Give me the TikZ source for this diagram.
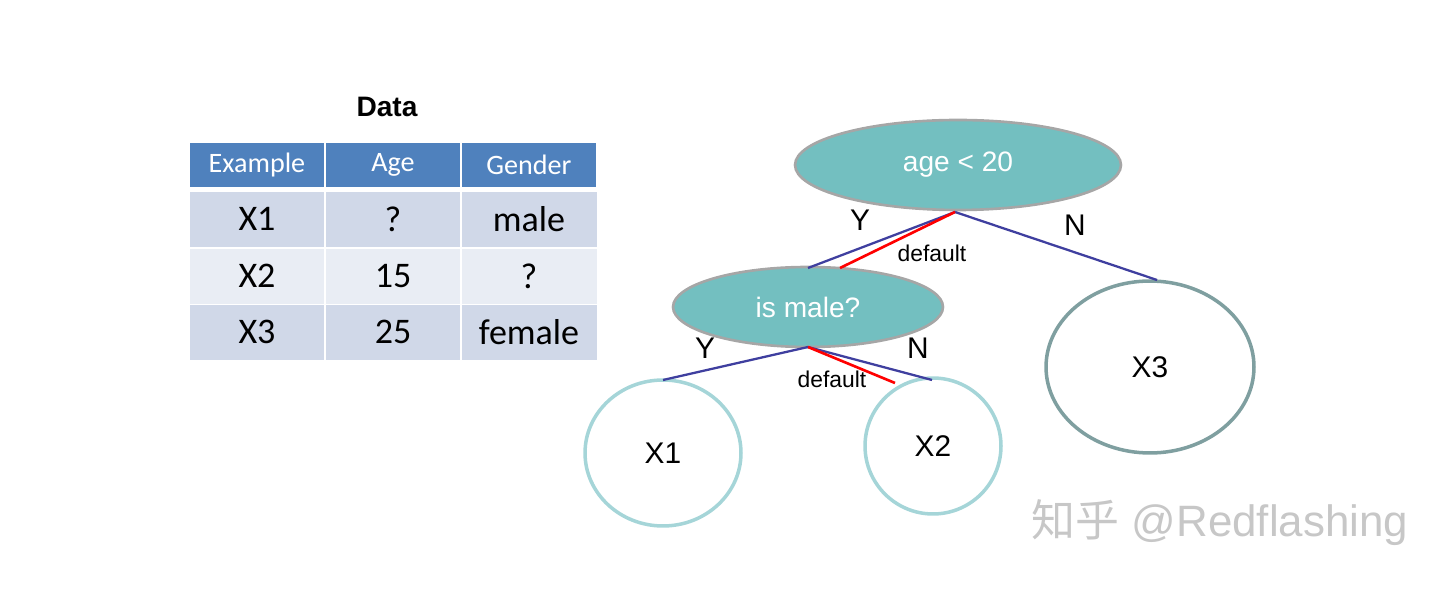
\documentclass[tikz,border=0pt]{standalone}
\usepackage{fontspec}
\setmainfont{Liberation Sans}
\newfontfamily\calfont{Carlito}
\newfontfamily\cjkfont{Noto Sans CJK SC}
\usetikzlibrary{shapes.geometric}
\definecolor{hdr}{HTML}{4F81BD}
\definecolor{rowa}{HTML}{D0D8E8}
\definecolor{rowb}{HTML}{E9EDF4}
\definecolor{teal}{HTML}{73BFC0}
\definecolor{lblue}{HTML}{3F3F9F}
\definecolor{ltl}{HTML}{A5D5D8}
\definecolor{gtl}{HTML}{7F9FA0}
\begin{document}
\begin{tikzpicture}[x=0.02cm,y=-0.02cm,
  cellh/.style={text=white,font=\calfont\fontsize{16}{18}\selectfont},
  cell/.style={font=\calfont\fontsize{20.5}{23}\selectfont},
  dec/.style={ellipse,fill=teal,draw=gray!70,line width=1.5pt,text=white,font=\fontsize{16}{18}\selectfont},
  leaf/.style={ellipse,draw=#1,line width=2pt,font=\fontsize{17}{19}\selectfont},
  br/.style={lblue,line width=1.3pt},
  df/.style={red,line width=1.5pt},
  lab/.style={font=\fontsize{17}{19}\selectfont},
  slab/.style={font=\fontsize{13}{15}\selectfont}]
\useasboundingbox (0,0) rectangle (1440,590);
\node[font=\bfseries\fontsize{16}{18}\selectfont] (data) at (387,107) {Data};
\foreach \x/\t [count=\i] in {190/Example,326/Age,462/Gender}{
  \fill[hdr] (\x,143) rectangle ++(134,44);
  \node[cellh] (h\i) at (\x+67,165) {\t};}
\foreach \y/\c/\a/\b/\g [count=\j] in {192/rowa/X1/?/male,249/rowb/X2/15/?,305/rowa/X3/25/female}{
  \fill[\c] (190,\y) rectangle ++(134,55);
  \fill[\c] (326,\y) rectangle ++(134,55);
  \fill[\c] (462,\y) rectangle ++(135,55);
  \node[cell] (r\j a) at (257,\y+27) {\a};
  \node[cell] (r\j b) at (393,\y+27) {\b};
  \node[cell] (r\j c) at (529,\y+27) {\g};}
\node[dec,minimum width=6.52cm,minimum height=1.8cm] (age) at (958,165) {age < 20};
\node[dec,minimum width=5.4cm,minimum height=1.6cm] (male) at (808,307) {is male?};
\node[leaf=gtl,minimum width=4.16cm,minimum height=3.44cm] (x3) at (1150,367) {X3};
\node[leaf=ltl,minimum width=3.12cm,minimum height=2.92cm] (x1) at (663,453) {X1};
\node[leaf=ltl,minimum width=2.72cm,minimum height=2.72cm] (x2) at (933,446) {X2};
\coordinate (a0) at (955,212);
\coordinate (m0) at (808,347);
\coordinate (mt) at (808,268);
\coordinate (mr) at (840,268);
\coordinate (x3t) at (1157,280);
\coordinate (x1t) at (663,380);
\coordinate (x2t) at (932,380);
\coordinate (x2r) at (895,383);
\draw[br] (a0) -- (mt);
\draw[br] (a0) -- (x3t);
\draw[df] (a0) -- (mr);
\draw[br] (m0) -- (x1t);
\draw[br] (m0) -- (x2t);
\draw[df] (m0) -- (x2r);
\node[lab] (ly1) at (860,220) {Y};
\node[lab] (ln1) at (1075,225) {N};
\node[slab] (d1) at (932,253) {default};
\node[lab] (ly2) at (705,348) {Y};
\node[lab] (ln2) at (918,348) {N};
\node[slab] (d2) at (832,379) {default};
\node[text=black!22,font=\fontsize{25}{27}\selectfont] (wm) at (1220,523) {{\cjkfont 知乎} @Redflashing};
\end{tikzpicture}
\end{document}
